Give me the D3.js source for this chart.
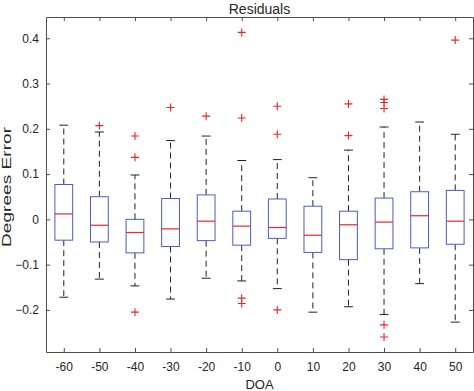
<!DOCTYPE html>
<html>
<head>
<meta charset="utf-8">
<script src="https://cdnjs.cloudflare.com/ajax/libs/d3/7.8.5/d3.min.js"></script>
<style>
  body { margin: 0; background: #fff; }
  text { font-family: "Liberation Sans", Arial, sans-serif; fill: #262626; }
</style>
</head>
<body>
<div id="chart"></div>
<script>
var categories = ['-60', '-50', '-40', '-30', '-20', '-10', '0', '10', '20', '30', '40', '50'];
var whiskerLow = [-0.172, -0.132, -0.147, -0.176, -0.130, -0.136, -0.153, -0.205, -0.193, -0.210, -0.142, -0.227];
var boxLow     = [-0.046, -0.050, -0.074, -0.060, -0.047, -0.057, -0.042, -0.073, -0.089, -0.065, -0.063, -0.055];
var medians    = [0.012, -0.013, -0.029, -0.021, -0.004, -0.015, -0.018, -0.035, -0.012, -0.006, 0.008, -0.004];
var boxHigh    = [0.077, 0.050, 0.000, 0.046, 0.054, 0.018, 0.045, 0.029, 0.018, 0.047, 0.061, 0.064];
var whiskerHigh = [0.208, 0.193, 0.098, 0.174, 0.184, 0.130, 0.132, 0.092, 0.153, 0.204, 0.215, 0.188];
var outliers = [
  [],
  [0.207],
  [0.184, 0.137, -0.205],
  [0.247],
  [0.228],
  [0.413, 0.224, -0.174, -0.186],
  [0.250, 0.188, -0.200],
  [],
  [0.255, 0.185],
  [0.265, 0.258, 0.245, -0.233, -0.260],
  [],
  [0.396]
];
var yTicks = [-0.2, -0.1, 0, 0.1, 0.2, 0.3, 0.4];

var W = 474, H = 391;
var margin = { top: 17, right: 1, bottom: 39, left: 46 };
var width = W - margin.left - margin.right,
    height = H - margin.top - margin.bottom;

var svg = d3.select('#chart').append('svg')
  .attr('width', W).attr('height', H);
var g = svg.append('g')
  .attr('transform', 'translate(' + margin.left + ',' + margin.top + ')');

var x = d3.scaleLinear().domain([0.5, categories.length + 0.5]).range([0, width]);
var y = d3.scaleLinear().domain([-0.293, 0.447]).range([height, 0]);
var boxW = x(1.25) - x(1);
var capW = x(1.125) - x(1);

var axisColor = '#4d4d4d';

// boxes
var data = categories.map(function (c, i) {
  return { i: i + 1, wl: whiskerLow[i], bl: boxLow[i], md: medians[i], bh: boxHigh[i], wh: whiskerHigh[i], out: outliers[i] };
});

var b = g.selectAll('.bx').data(data).enter().append('g').attr('class', 'bx');

// whiskers dashed
b.append('line')
  .attr('x1', function (d) { return x(d.i); }).attr('x2', function (d) { return x(d.i); })
  .attr('y1', function (d) { return y(d.bh); }).attr('y2', function (d) { return y(d.wh); })
  .attr('stroke', '#222').attr('stroke-width', 1).attr('stroke-dasharray', '6,4');
b.append('line')
  .attr('x1', function (d) { return x(d.i); }).attr('x2', function (d) { return x(d.i); })
  .attr('y1', function (d) { return y(d.bl); }).attr('y2', function (d) { return y(d.wl); })
  .attr('stroke', '#222').attr('stroke-width', 1).attr('stroke-dasharray', '6,4');
// caps
b.append('line')
  .attr('x1', function (d) { return x(d.i) - capW; }).attr('x2', function (d) { return x(d.i) + capW; })
  .attr('y1', function (d) { return y(d.wh); }).attr('y2', function (d) { return y(d.wh); })
  .attr('stroke', '#222').attr('stroke-width', 1);
b.append('line')
  .attr('x1', function (d) { return x(d.i) - capW; }).attr('x2', function (d) { return x(d.i) + capW; })
  .attr('y1', function (d) { return y(d.wl); }).attr('y2', function (d) { return y(d.wl); })
  .attr('stroke', '#222').attr('stroke-width', 1);
// box
b.append('rect')
  .attr('x', function (d) { return x(d.i) - boxW; })
  .attr('y', function (d) { return y(d.bh); })
  .attr('width', boxW * 2)
  .attr('height', function (d) { return y(d.bl) - y(d.bh); })
  .attr('fill', '#fff').attr('stroke', '#4a5cc4').attr('stroke-width', 1);
// median
b.append('line')
  .attr('x1', function (d) { return x(d.i) - boxW; }).attr('x2', function (d) { return x(d.i) + boxW; })
  .attr('y1', function (d) { return y(d.md); }).attr('y2', function (d) { return y(d.md); })
  .attr('stroke', '#e8262a').attr('stroke-width', 1.2);
// outliers
b.each(function (d) {
  d3.select(this).selectAll('.o').data(d.out).enter().append('path')
    .attr('d', function (v) {
      var cx = x(d.i), cy = y(v), r = 4;
      return 'M' + (cx - r) + ',' + cy + 'H' + (cx + r) + 'M' + cx + ',' + (cy - r) + 'V' + (cy + r);
    })
    .attr('stroke', '#e8262a').attr('stroke-width', 1.1).attr('fill', 'none');
});

// axes
var xAxis = d3.axisBottom(x).tickValues(d3.range(1, categories.length + 1))
  .tickFormat(function (d) { return categories[d - 1]; }).tickSizeInner(-4).tickSizeOuter(0).tickPadding(10);
var yAxis = d3.axisLeft(y).tickValues(yTicks)
  .tickFormat(function (d) { return d === 0 ? '0' : d3.format('.1f')(d); }).tickSizeInner(-4).tickSizeOuter(0).tickPadding(7);

var gx = g.append('g').attr('transform', 'translate(0,' + height + ')').call(xAxis);
var gy = g.append('g').call(yAxis);
var gxt = g.append('g').call(d3.axisTop(x).tickValues(d3.range(1, categories.length + 1)).tickFormat('').tickSizeInner(-4).tickSizeOuter(0));
var gyr = g.append('g').attr('transform', 'translate(' + width + ',0)')
  .call(d3.axisRight(y).tickValues(yTicks).tickFormat('').tickSizeInner(-4).tickSizeOuter(0));

[gx, gy, gxt, gyr].forEach(function (a) {
  a.select('.domain').attr('stroke', axisColor);
  a.selectAll('.tick line').attr('stroke', axisColor);
  a.selectAll('.tick text').style('font-size', '12px').attr('fill', '#333');
});

// titles
svg.append('text')
  .attr('x', margin.left + width / 2).attr('y', 14)
  .attr('text-anchor', 'middle').style('font-size', '14px').attr('fill', '#111')
  .text('Residuals');
svg.append('text')
  .attr('x', margin.left + width / 2).attr('y', 389)
  .attr('text-anchor', 'middle').style('font-size', '13px').attr('fill', '#333')
  .text('DOA');
// y label looks stretched along its length in the original
svg.append('text')
  .attr('transform', 'translate(11,' + 187 + ') rotate(-90)')
  .attr('x', -60)
  .attr('textLength', 120).attr('lengthAdjust', 'spacingAndGlyphs')
  .style('font-size', '12.5px').attr('fill', '#4a4a4a')
  .text('Degrees Error');
</script>
</body>
</html>
